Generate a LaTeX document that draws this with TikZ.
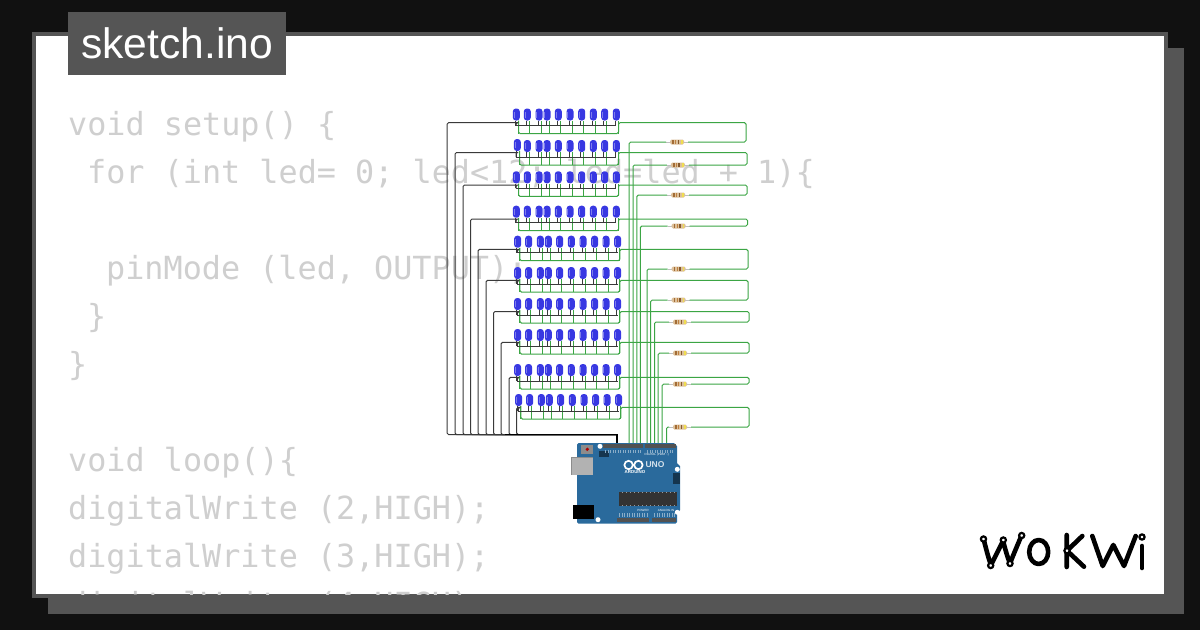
\documentclass[tikz,border=0pt]{standalone}
\usepackage{fontspec}
\setmainfont{Liberation Sans}
\newfontfamily\codefont{DejaVu Sans Mono}
\definecolor{pagebg}{HTML}{111111}
\definecolor{framegray}{HTML}{555555}
\definecolor{codegray}{HTML}{CFCFCF}
\definecolor{wiregreen}{HTML}{3BA544}
\definecolor{wireblack}{HTML}{3A3A3A}
\definecolor{ledblue}{HTML}{3838E2}
\definecolor{boardblue}{HTML}{2A6A9C}
\definecolor{restan}{HTML}{DCC09A}
\tikzset{>=stealth,
    codeline/.style={anchor=base west,text=codegray,font=\codefont\fontsize{31.8}{38}\selectfont,inner sep=0pt},
    ledbody/.style={fill=ledblue,rounded corners=3pt,minimum width=7pt,minimum height=12pt,inner sep=0pt},
    resbody/.style={fill=restan,rounded corners=1.5pt,minimum width=14pt,minimum height=5pt,inner sep=0pt},
    greenwire/.style={draw=wiregreen,line width=1pt,rounded corners=1.5pt},
    blackwire/.style={draw=wireblack,line width=1pt,rounded corners=1.5pt},
    logostroke/.style={draw=black,line width=4.6pt,line cap=round,line join=round},
    logodot/.style={draw=black,fill=white,line width=2.2pt},
    boardtext/.style={text=white,inner sep=0pt},
    pinrow/.style={fill=black!68,minimum height=4pt,inner sep=0pt},
}

\begin{document}
\begin{tikzpicture}[x=1pt,y=-1pt]
    \useasboundingbox (0,0) rectangle (1200,630);
    \fill[pagebg] (0,0) rectangle (1200,630);
    \fill[framegray] (48,48) rectangle (1184,614);
    \fill[framegray] (32,32) rectangle (1168,598);
    \fill[white] (36,36) rectangle (1164,594);

    \begin{scope}
        \clip (36,36) rectangle (1164,594);
        \node[codeline] (code1) at (68,135.5) {void setup() \{};
        \node[codeline] (code2) at (87,183.5) {for (int led= 0; led<12; led=led + 1)\{};
        \node[codeline] (code3) at (106,279.5) {pinMode (led, OUTPUT);};
        \node[codeline] (code4) at (87,327.5) {\}};
        \node[codeline] (code5) at (68,375.5) {\}};
        \node[codeline] (code6) at (68,471.5) {void loop()\{};
        \node[codeline] (code7) at (68,519.5) {digitalWrite (2,HIGH);};
        \node[codeline] (code8) at (68,567.5) {digitalWrite (3,HIGH);};
        \node[codeline] (code9) at (68,615.5) {digitalWrite (4,HIGH);};
    \end{scope}

    \fill[framegray] (68,12) rectangle (286,75);
    \node[anchor=base west,text=white,inner sep=0pt,font=\fontsize{42.6}{48}\selectfont] (title) at (81,58) {sketch.ino};

    \coordinate (drop) at (617,434.5);
    \coordinate (gnd) at (617,445);
    \foreach \wy/\ly/\dx/\rx/\ry/\rc/\vx/\lft [count=\i] in {
        122.7/114.5/0/746/142/677/629.2/447,
        152.5/146/0/747/165/677.8/633/455,
        185/177.3/0/747/195/678/636.8/463,
        219/211.7/0/747.5/226/678.5/640.4/470.5,
        249.3/241.7/1.3/748/269/678.7/647/478,
        280.3/273/1.3/748/300/678.7/650.7/486,
        311.5/304/1.3/749/322/680/654.5/493.5,
        342.3/335/1.3/749/353/680/658.2/501,
        377.3/370/1.3/749/384/680/662.2/509,
        407.3/400/2.3/749/427/680/666.5/516.7}
    {
        \coordinate (entry\i) at ({517+\dx},\wy);
        \coordinate (busk\i) at ({516+\dx},{\ly+11});
        \coordinate (busa\i) at ({518+\dx},{\ly+19});
        \coordinate (tail\i) at ({618.5+\dx},\wy);
        \coordinate (pin\i) at (\vx,445);
        \draw[black!25,line width=1pt] ({\rc-11},\ry) -- ({\rc+11},\ry);
        \node[resbody] (res\i) at (\rc,\ry) {};
        \foreach \bx/\bc in {-4/brown!85!black,-1.3/brown,1.3/brown!70!black,5/yellow!55!restan}
            \fill[\bc] ({\rc+\bx-0.7},{\ry-2.4}) rectangle ({\rc+\bx+0.7},{\ry+2.4});
        \foreach \lx [count=\j] in {516.3,527.3,539,547,558.3,570,581.7,593.3,604.7,616.3} {
            \pgfmathsetmacro{\ledx}{\lx+\dx+and(\i==2,\j==1)}
            \pgfmathsetmacro{\ledy}{\ly-and(\i==2,\j==1)}
            \node[ledbody] (led\i-\j) at (\ledx,\ledy) {};
            \draw[blackwire] ([xshift=-1pt]led\i-\j.south) -- ([xshift=-1pt]led\i-\j.south |- busk\i);
            \draw[greenwire] ([xshift=2.2pt]led\i-\j.south) -- ([xshift=2.2pt]led\i-\j.south |- busa\i);
            \fill[ledblue!65!white] ([xshift=-2.6pt,yshift=-3pt]led\i-\j.center) rectangle ([xshift=-1.7pt,yshift=3pt]led\i-\j.center);
        }
        \draw[greenwire] ([xshift=2.2pt]led\i-1.south) |- (tail\i |- busa\i) -- (tail\i) -- (\rx,\wy) -- (\rx,\ry) -- ++({\rc-\rx+11},0);
        \draw[greenwire] ({\rc-11},\ry) -| (pin\i);
        \draw[blackwire] (busk\i) -- (busk\i -| led\i-10.south);
        \draw[blackwire] (busk\i) |- (entry\i) -- (\lft,\wy) -- (\lft,434.5) -- (drop);
    }
    \draw[draw=black,line width=1.4pt] (505,434.5) -- (drop) -- (gnd);

    % board
    \fill[boardblue] (577,444.5) -- (578.5,443) -- (674,443) -- (677,446) -- (677,463) -- (680,466) -- (680,510) -- (677,513) -- (677,522) -- (675.5,523.5) -- (578.5,523.5) -- (577,522) -- cycle;
    \fill[black!45] (571,457) rectangle (593,475);
    \fill[black!30] (571.5,457.5) rectangle (592.5,474.5);
    \fill[black] (573,505) rectangle (594,519);
    \fill[black!45] (581,444.5) rectangle (593,454);
    \fill[red!70!black] (587.3,449.3) circle (1.8);
    \foreach \cx/\cy in {600/446.3,677.3/469.3,677.3/512.3,598/519.7}
        \fill[white] (\cx,\cy) circle (2.5);
    \node[pinrow,minimum width=39.5pt] (hdra) at (622.8,446.3) {};
    \node[pinrow,minimum width=31.5pt] (hdrb) at (660.4,446.3) {};
    \node[pinrow,minimum width=32pt] (hdrc) at (633.2,520.3) {};
    \node[pinrow,minimum width=24pt] (hdrd) at (664.2,520.3) {};
    \fill[black!50!boardblue] (598.5,450.5) rectangle (609,457);
    \fill[black!50!boardblue] (673,473) rectangle (680,484);
    \fill[black!80] (619.3,491.7) rectangle (676.7,506);
    \foreach \px in {622,626,...,674} {
        \fill[black!40] (\px,491.7) rectangle ++(1.4,1);
        \fill[black!40] (\px,505) rectangle ++(1.4,1);
    }
    \draw[white,line width=1.7pt] (628.6,465) circle (4.2) (638.4,465) circle (4.2);
    \node[boardtext,font=\bfseries\fontsize{8.5}{9}\selectfont,text=white!80!boardblue] (uno) at (655,464.3) {UNO};
    \node[boardtext,font=\bfseries\fontsize{4.4}{5}\selectfont] (brand) at (635,471.7) {ARDUINO};
    \node[boardtext,font=\fontsize{3}{3}\selectfont] (digital) at (656.7,455) {DIGITAL (PWM \textasciitilde)};
    \node[boardtext,font=\fontsize{3}{3}\selectfont] (power) at (643,510) {POWER};
    \node[boardtext,font=\fontsize{3}{3}\selectfont] (analog) at (666,510) {ANALOG IN};
    \foreach \px in {605,607.5,...,640,647,649.5,...,674}
        \fill[white!45!boardblue] (\px,450) rectangle ++(1,2.5);
    \foreach \px in {619,621.5,...,647,654,656.5,...,674}
        \fill[white!45!boardblue] (\px,513) rectangle ++(1,3.5);

    % logo
    \draw[logostroke] (983.5,539) .. controls (986,548) and (988,557) .. (991,565) -- (1003,541) .. controls (1005,548) and (1007,556) .. (1010,563.5) .. controls (1014,553) and (1018,544) .. (1021.7,535);
    \draw[logostroke] (1038.7,552) ellipse (9.5 and 12);
    \draw[logostroke] (1066.7,535) -- (1066.7,567) (1082.3,536) -- (1067,550.7) -- (1084,566.7);
    \draw[logostroke] (1092.3,536) -- (1102.7,566) -- (1113.3,545) -- (1124,566) -- (1135.7,536);
    \draw[logostroke] (1142,546) -- (1142,568);
    \foreach \dx/\dy in {983.5/539,990.7/565.5,1003.3/540,1010/563.5,1021.7/535.5,1067/550.7,1142/537}
        \draw[logodot] (\dx,\dy) circle (2.6);
\end{tikzpicture}
\end{document}
